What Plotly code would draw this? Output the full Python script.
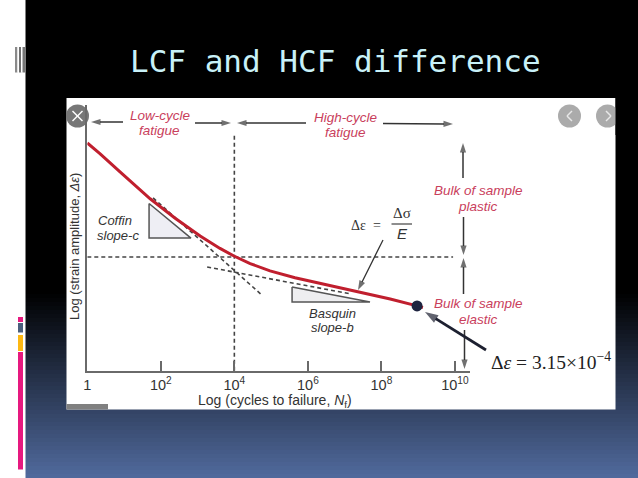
import plotly.graph_objects as go

# ---- data (log10 values) ----
log_cycles = [0, 0.35, 0.89, 1.30, 1.71, 2.39, 3.07, 3.61, 3.99, 4.43, 4.97, 5.65, 6.33, 7.34, 8.24, 8.97, 9.13]
log_strain = [0.27, 0.02, -0.40, -0.72, -1.02, -1.47, -1.88, -2.17, -2.345, -2.52, -2.69, -2.85, -2.98, -3.16, -3.34, -3.50, -3.537]
coffin_x = [1.79, 4.75]
coffin_y = [-1.00, -3.25]
basquin_x = [3.26, 7.15]
basquin_y = [-2.60, -3.22]
transition_x = 4
transition_y = -2.368
coffin_tri_x = [1.68, 1.68, 2.82, 1.68]
coffin_tri_y = [-1.13, -1.93, -1.93, -1.13]
basquin_tri_x = [5.57, 5.57, 7.69, 5.57]
basquin_tri_y = [-3.06, -3.41, -3.41, -3.06]
point_x = [8.97]
point_y = [-3.50]
tick_vals = [0, 2, 4, 6, 8, 10]
tick_text = ["1", "10<sup>2</sup>", "10<sup>4</sup>", "10<sup>6</sup>", "10<sup>8</sup>", "10<sup>10</sup>"]
title_text = "LCF and HCF difference"

W, H = 638, 478
px = lambda v: v / W
py = lambda v: 1 - v / H
RED = "#c9405c"
GREY = "#555555"
DARK = "#333333"
SANS = "Liberation Sans"
SERIF = "Liberation Serif"

fig = go.Figure()
fig.add_trace(go.Scatter(x=coffin_tri_x, y=coffin_tri_y, mode="lines", fill="toself",
                         fillcolor="#eeeef4", line=dict(color=GREY, width=1.5)))
fig.add_trace(go.Scatter(x=basquin_tri_x, y=basquin_tri_y, mode="lines", fill="toself",
                         fillcolor="#eeeef0", line=dict(color=GREY, width=1.5)))
dash = dict(color="#444444", width=1.6, dash="4px,3px")
fig.add_trace(go.Scatter(x=[transition_x, transition_x], y=[-5, 0.5], mode="lines", line=dash))
fig.add_trace(go.Scatter(x=[0, 9.95], y=[transition_y, transition_y], mode="lines", line=dash))
fig.add_trace(go.Scatter(x=coffin_x, y=coffin_y, mode="lines", line=dash))
fig.add_trace(go.Scatter(x=basquin_x, y=basquin_y, mode="lines", line=dash))
fig.add_trace(go.Scatter(x=log_cycles, y=log_strain, mode="lines",
                         line=dict(color="#c01f2e", width=3)))
fig.add_trace(go.Scatter(x=point_x, y=point_y, mode="markers",
                         marker=dict(color="#1e2440", size=11)))

shapes = []
# slide background
for y in range(290, 478, 4):
    t = (y - 290) / 188
    c = f"rgb({int(82*t)},{int(108*t)},{int(160*t)})"
    shapes.append(dict(type="rect", xref="paper", yref="paper", x0=0, x1=1, y0=py(y + 4), y1=py(y),
                       fillcolor=c, line_width=0, layer="below"))
def rect(x0, y0, x1, y1, color):
    shapes.append(dict(type="rect", xref="paper", yref="paper", x0=px(x0), x1=px(x1), y0=py(y1), y1=py(y0),
                       fillcolor=color, line_width=0, layer="below"))
def circle(cx, cy, r, color):
    shapes.append(dict(type="circle", xref="paper", yref="paper", x0=px(cx - r), x1=px(cx + r),
                       y0=py(cy + r), y1=py(cy - r), fillcolor=color, line_width=0, layer="below"))
rect(0, 0, 25.5, 478, "#ffffff")
for x0, c in [(15, "#8a8a8a"), (17.5, "#ffffff"), (19, "#6f6f6f"), (21, "#ffffff"), (22.5, "#777777")]:
    rect(x0, 47, x0 + 2.5, 72.5, c)
rect(18, 317, 23, 322, "#e6197f")
rect(18, 323, 23, 332.5, "#4a5f7e")
rect(18, 335, 23, 351, "#fdb813")
rect(18, 352, 23, 469.5, "#e6197f")
rect(66.5, 98, 615.5, 409.5, "#ffffff")
rect(66.5, 404, 108, 409.5, "#808080")
circle(77.5, 116, 11.5, "#777777")
circle(569.5, 116, 11.5, "#ababab")
circle(607.5, 116, 11.5, "#ababab")
rect(615.5, 98, 638, 135, "#000000")

def line(x0, y0, x1, y1, color="#ffffff", width=1.5):
    shapes.append(dict(type="line", xref="paper", yref="paper", x0=px(x0), x1=px(x1), y0=py(y0), y1=py(y1),
                       line=dict(color=color, width=width)))
line(72.5, 111, 82.5, 121); line(82.5, 111, 72.5, 121)
line(572, 111, 567, 116, "#e8e8e8"); line(567, 116, 572, 121, "#e8e8e8")
line(606, 111, 611, 116, "#e8e8e8"); line(611, 116, 606, 121, "#e8e8e8")
line(391.5, 224, 412, 224, "#444444", 1.2)

ann = []
def text(x, y, s, size=13.5, color=RED, family=SANS, angle=0, style="normal"):
    ann.append(dict(xref="paper", yref="paper", x=px(x), y=py(y), text=s, showarrow=False,
                    xanchor="center", yanchor="middle", align="center", textangle=angle,
                    font=dict(size=size, color=color, family=family, style=style)))
def arrow(x0, y0, x1, y1, color="#333333", width=1.5, size=10):
    fig.add_trace(go.Scatter(x=[x0, x1], y=[y0, y1], mode="lines+markers", xaxis="x2", yaxis="y2",
                             line=dict(color=color, width=width),
                             marker=dict(symbol="arrow", angleref="previous", color=color,
                                         size=[0, size], line_width=0)))

text(335.5, 61, title_text, 31, "#c8f1f8", "DejaVu Sans Mono")
text(160, 116, "Low-cycle", style="italic")
text(160, 130.5, "fatigue", style="italic")
text(345, 117, "High-cycle", style="italic")
text(345, 133, "fatigue", style="italic")
text(478, 190.5, "Bulk of sample", style="italic")
text(478, 206, "plastic", style="italic")
text(478, 303, "Bulk of sample", style="italic")
text(478, 319, "elastic", style="italic")
text(115, 221, "Coffin", 13, DARK, style="italic")
text(118, 235, "slope-c", 13, DARK, style="italic")
text(332, 313, "Basquin", 13, DARK, style="italic")
text(332, 327, "slope-b", 13, DARK, style="italic")
text(74, 247, "Log (strain amplitude, <i>Δε</i>)", 13, DARK, SANS, -90)
text(275, 401, "Log (cycles to failure, <i>N</i><sub>f</sub>)", 14, DARK)
text(366, 225, "Δε  =", 14, DARK, SERIF)
text(402, 213, "Δσ", 15, DARK, SERIF)
text(402, 233, "E", 15, DARK, SANS, style="italic")
text(551, 361, "Δ<i>ε</i> = 3.15×10<sup>−4</sup>", 19.5, "#222222", SERIF)

arrow(123, 122, 91, 122)
arrow(195, 123, 231, 123)
arrow(306, 123, 237, 123)
arrow(383, 123.5, 453, 124)
arrow(463, 178, 463, 143)
arrow(463.5, 217, 463.5, 255)
arrow(463.5, 294, 463.5, 258)
arrow(464.5, 330, 464.5, 369)
arrow(383, 240, 358, 290, "#333333", 1.3)
arrow(486, 350, 425, 312, "#1d2030", 2.8, 14)

axis_line = dict(showline=True, linecolor="#6a6a6a", linewidth=2, showgrid=False, zeroline=False)
overlay = dict(domain=[0, 1], visible=False, fixedrange=True)
fig.update_layout(
    width=W, height=H, margin=dict(l=0, r=0, t=0, b=0, autoexpand=False), autosize=False,
    paper_bgcolor="#000000", plot_bgcolor="rgba(0,0,0,0)", showlegend=False,
    shapes=shapes, annotations=ann,
    xaxis=dict(domain=[87.3 / W, 470 / W], range=[0, 10.41], tickvals=tick_vals, ticktext=tick_text,
               ticks="inside", ticklen=10, tickwidth=1.5, tickcolor="#6a6a6a", tickangle=0,
               tickfont=dict(size=14.5, color=DARK, family=SANS), **axis_line),
    yaxis=dict(domain=[1 - 370.7 / H, 1 - 105 / H], range=[-5, 1.15], showticklabels=False, ticks="", **axis_line),
    xaxis2=dict(range=[0, W], anchor="y2", **overlay),
    yaxis2=dict(range=[H, 0], anchor="x2", **overlay),
)
fig.write_html("out.html", config=dict(displayModeBar=False),
               post_script="document.body.style.margin='0';document.body.style.overflow='hidden';")
